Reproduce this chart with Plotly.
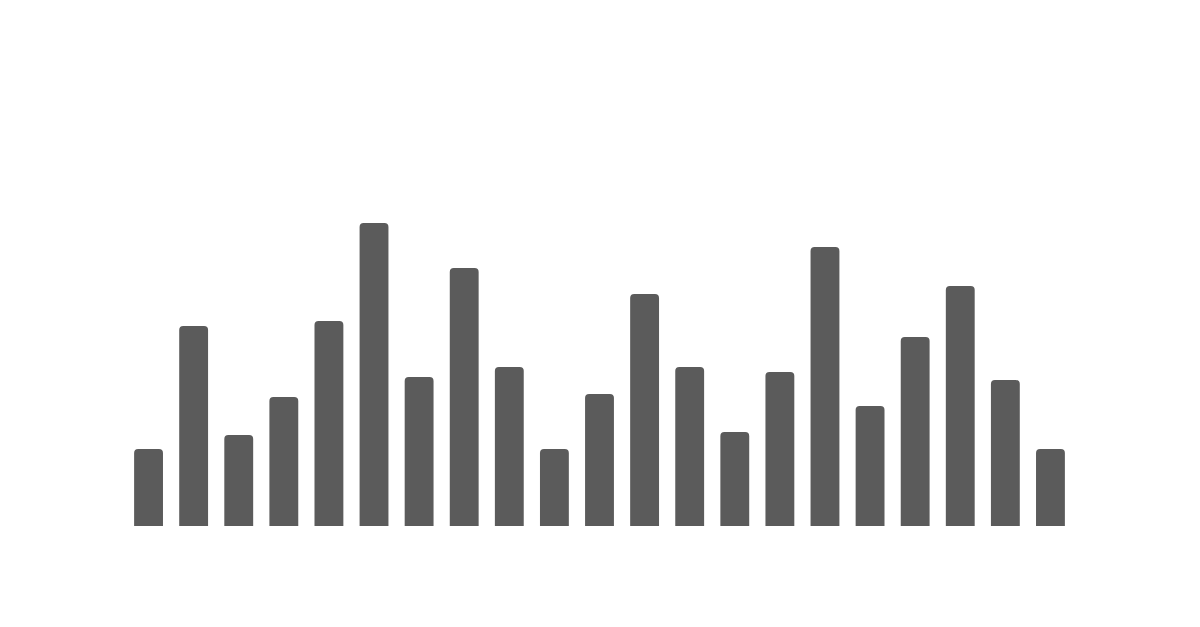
import plotly.graph_objects as go

# bar index (1..21) and heights
categories = [str(i) for i in range(1, 22)]
values = [77, 200, 91, 129, 205, 303, 149, 258, 159, 77, 132,
          232, 159, 94, 154, 279, 120, 189, 240, 146, 77]

BAR_COLOR = "#5b5b5b"

fig = go.Figure(
    go.Bar(
        x=categories,
        y=values,
        marker=dict(color=BAR_COLOR, cornerradius=4, line=dict(width=0)),
        width=0.64,
        hoverinfo="skip",
    )
)

# page body adds an 8px offset, so shift the plot area up and left
fig.update_layout(
    width=1200,
    height=627,
    margin=dict(l=118, r=135, t=52, b=109),
    plot_bgcolor="white",
    paper_bgcolor="white",
    showlegend=False,
    bargap=0.36,
)
fig.update_xaxes(visible=False, showgrid=False, zeroline=False)
fig.update_yaxes(visible=False, showgrid=False, zeroline=False, range=[0, 466])

fig.write_html("out.html", config={"displayModeBar": False})
